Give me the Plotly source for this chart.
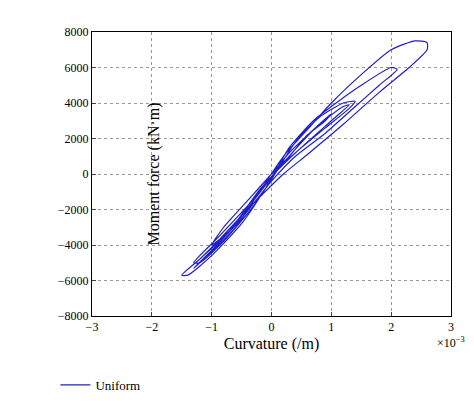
import plotly.graph_objects as go

# curvature in 1e-3 /m, moment in kN*m (turning points)
curv = [0, 0.3, 0.6, 0.9, 1.0, 0.7, 0.3, 0, -0.4, -0.8, -1.0, -0.7, -0.3, 0,
        0.4, 0.8, 1.2, 1.3, 1.0, 0.5, 0.1, -0.4, -0.9, -1.3, -1.2, -0.8, -0.3, 0,
        0.4, 0.8, 1.2, 1.4, 1.3, 0.9, 0.3, -0.2, -0.7, -1.2, -1.5, -1.4, -1.0, -0.5, -0.1,
        0.3, 0.7, 1.0, 1.5, 2.0, 2.1, 1.8, 1.4, 0.9, 0.4, 0, -0.5, -1.0, -1.3, -1.1, -0.6, -0.2,
        0.2, 0.6, 1.0, 1.5, 2.0, 2.4, 2.6, 2.6, 2.3, 1.8, 1.2, 0.6, 0.2, -0.4, -0.9, -1.2]
moment = [0, 1000, 2200, 3000, 3400, 2500, 1200, 0, -1500, -3000, -4000, -3200, -1500, -200,
          1400, 2800, 3800, 3900, 3000, 1500, 200, -1800, -3600, -5000, -5000, -3800, -1800, -300,
          1800, 3200, 4000, 4100, 3700, 2600, 900, -900, -3200, -4800, -5700, -5700, -4600, -2800, -800,
          1500, 3000, 3800, 5000, 6000, 5900, 5000, 3800, 2300, 1000, -400, -2500, -4300, -5300, -4700, -3000, -1000,
          1000, 2500, 4000, 5600, 7000, 7500, 7400, 7000, 6000, 4600, 2800, 1100, 0, -2000, -3800, -4800]

fig = go.Figure(go.Scatter(x=curv, y=moment, mode='lines', name='Uniform',
                           line=dict(color='#2020c8', width=1.2, shape='spline', smoothing=0.6)))

axis_style = dict(showline=True, linecolor='black', mirror=True, ticks='inside', ticklen=4,
                  showgrid=True, gridcolor='#999', griddash='dot', gridwidth=1,
                  zeroline=False, automargin=False, tickfont=dict(size=12, color='black'))

fig.update_layout(
    width=474, height=401, plot_bgcolor='white', paper_bgcolor='white',
    font=dict(family='Liberation Serif', size=13, color='black'),
    margin=dict(l=84, r=31, t=24, b=93, autoexpand=False),
    xaxis=dict(range=[-3, 3], dtick=1, title=dict(text='Curvature (/m)', standoff=4), **axis_style),
    yaxis=dict(range=[-8000, 8000], dtick=2000, title=dict(text='Moment force (kN·m)', standoff=6), **axis_style),
    showlegend=True,
    legend=dict(x=0.1, y=0.06, xref='container', yref='container', xanchor='left', yanchor='middle',
                font=dict(size=13)),
)
fig.add_annotation(x=1, y=-0.06, xref='paper', yref='paper', xanchor='center', yanchor='top',
                   showarrow=False, text='×10<sup>−3</sup>', font=dict(size=12))

fig.write_html("out.html")
